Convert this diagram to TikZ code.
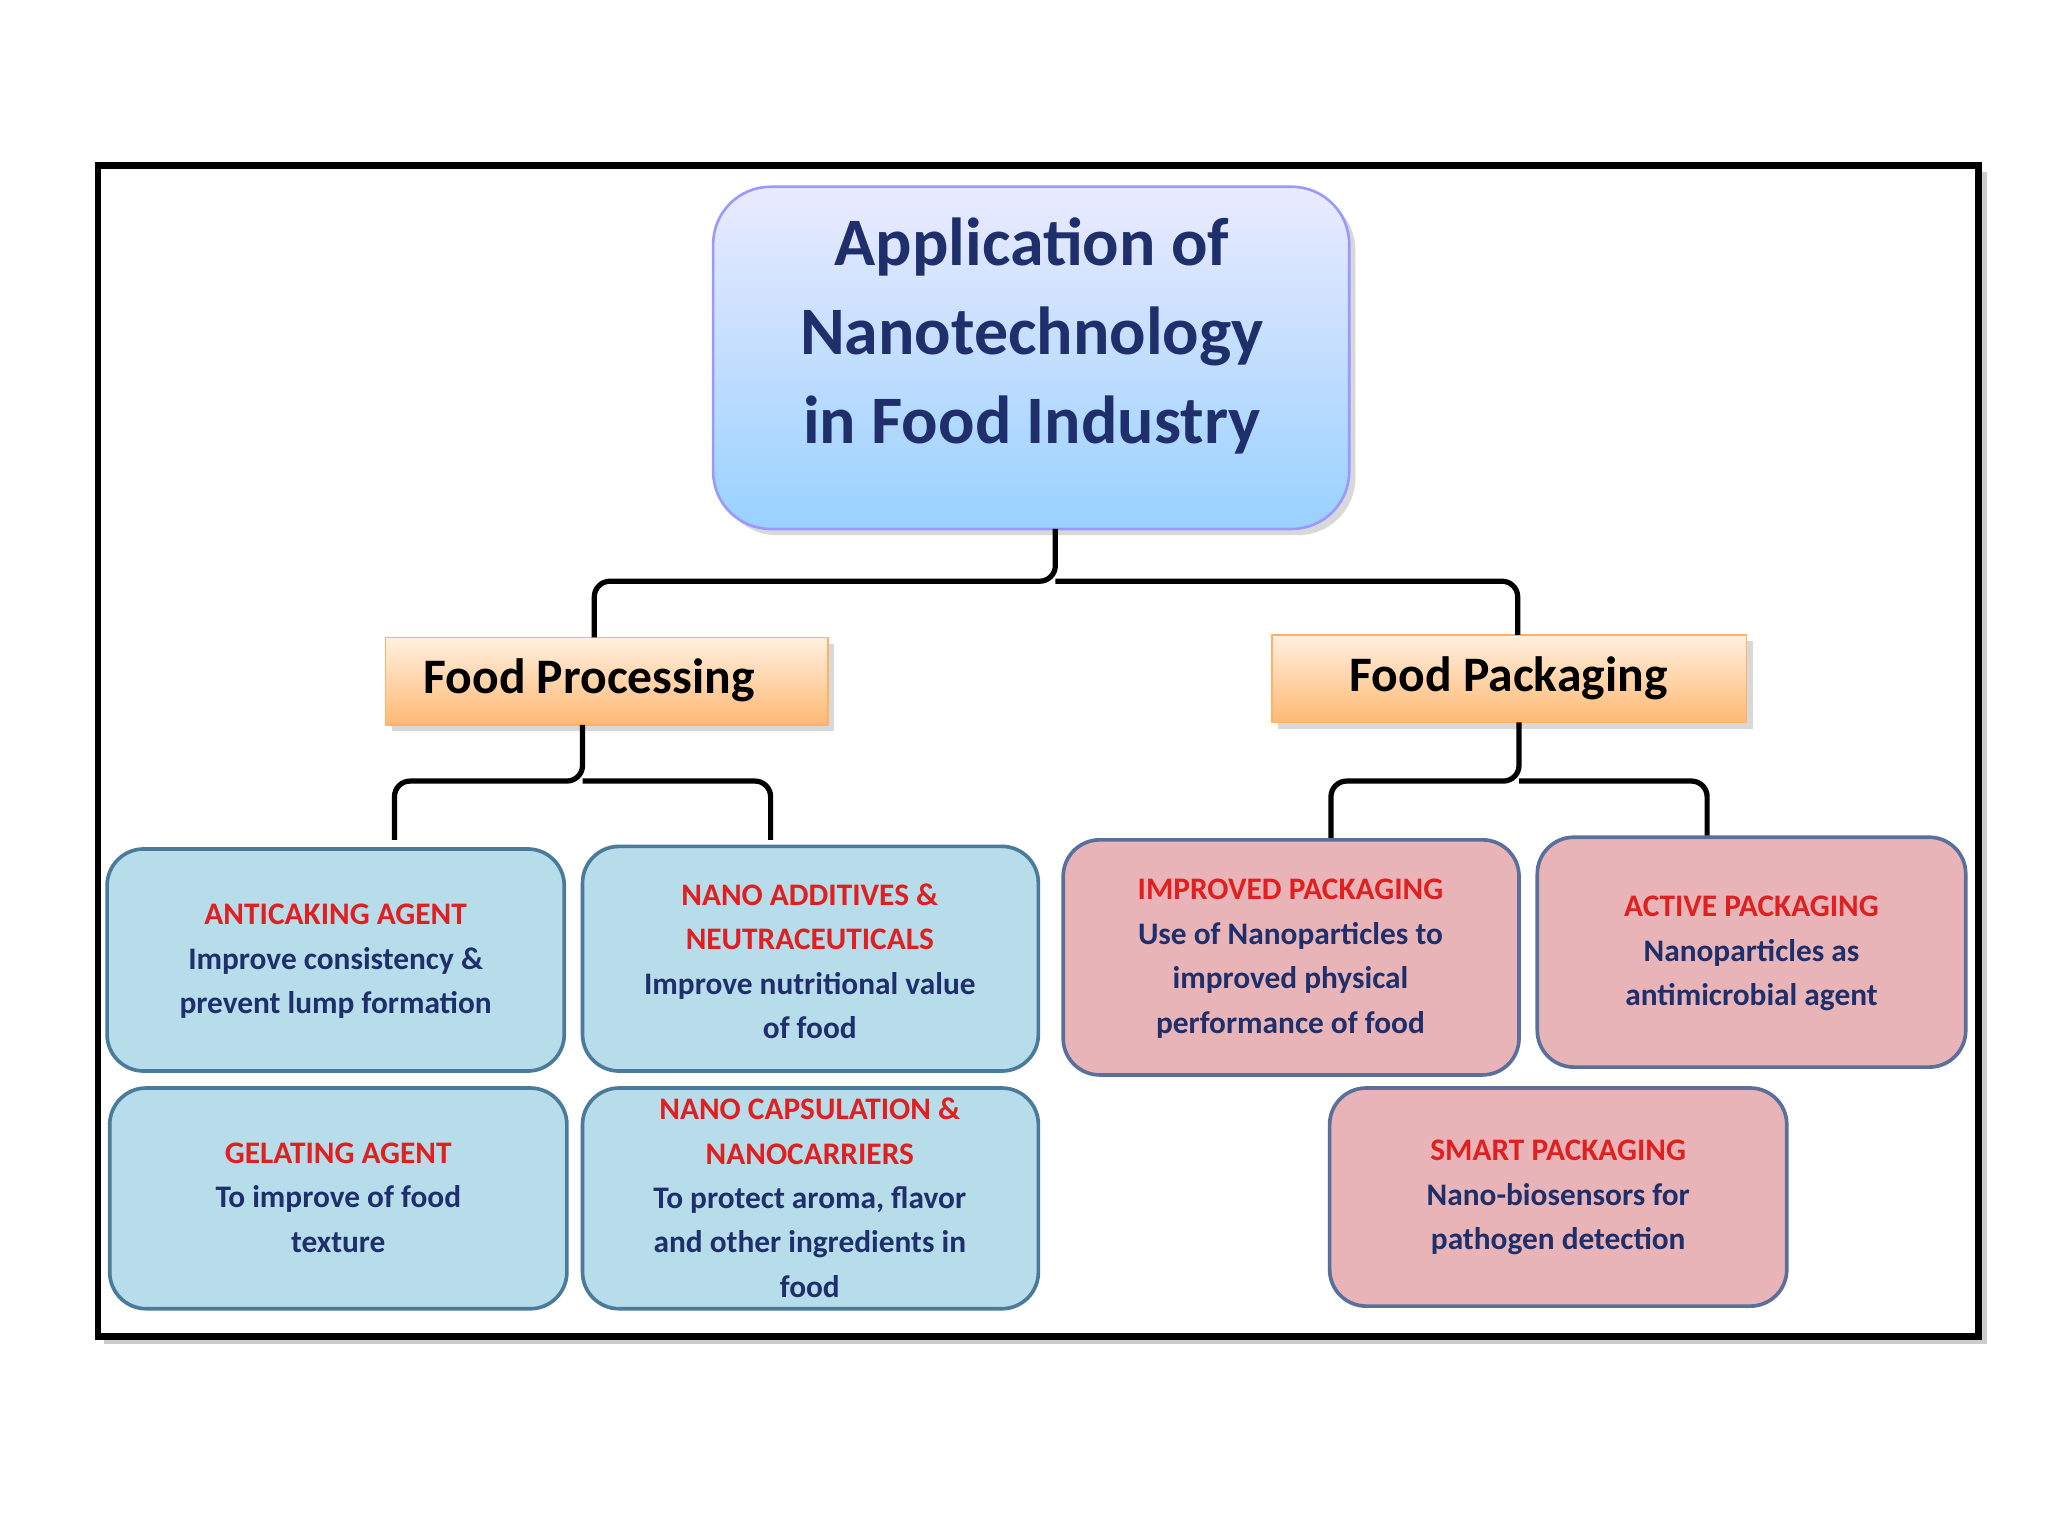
\documentclass[tikz,border=0pt]{standalone}
\usepackage{fontspec}
\setmainfont{Carlito}
\usetikzlibrary{shadows}
\definecolor{navy}{HTML}{1F2F6B}
\definecolor{hred}{HTML}{E02020}
\definecolor{bfill}{HTML}{B7DCEA}
\definecolor{bdraw}{HTML}{4A7B9B}
\definecolor{pfill}{HTML}{E8B4B8}
\definecolor{pdraw}{HTML}{5A6F9B}
\begin{document}
\begin{tikzpicture}[x=0.5pt,y=-0.5pt,
 conn/.style={line width=2pt,rounded corners=6pt},
 blue/.style={draw=bdraw,line width=1.4pt,fill=bfill,rounded corners=14pt},
 pink/.style={draw=pdraw,line width=1.4pt,fill=pfill,rounded corners=14pt},
 txt/.style={align=center,font=\bfseries\fontsize{12}{17}\selectfont,text=navy},
 cat/.style={draw=orange!60,line width=0.6pt,top color=orange!12,bottom color=orange!55,drop shadow={opacity=0.3}}]
\useasboundingbox (0,0) rectangle (1568,1176);
\fill[gray!40] (80,132) rectangle (1521,1029);
\draw[line width=2.6pt,fill=white] (75,127) rectangle (1515,1023);
% title
\path[draw=blue!40,line width=1pt,rounded corners=22pt,top color=blue!8,bottom color=blue!45!cyan!40!white,drop shadow={opacity=0.3}] (546,143) rectangle (1033,405);
\node[align=center,font=\bfseries\fontsize{26}{34}\selectfont,text=navy] (title) at (790,257) {Application of\\Nanotechnology\\in Food Industry};
\coordinate (tb) at (808,405);
% categories
\path[cat] (295,488) rectangle (634,555);
\node[font=\bfseries\fontsize{19}{22}\selectfont] (fp) at (451,521) {Food Processing};
\path[cat] (974,486) rectangle (1337,553);
\node[font=\bfseries\fontsize{19}{22}\selectfont] (fk) at (1155,519) {Food Packaging};
\draw[conn] (tb) -- (808,445) -| (455,488);
\draw[conn] (808,445) -| (1162,486);
\draw[conn] (446,555) -- (446,598) -| (302,643);
\draw[conn] (446,598) -| (590,643);
\draw[conn] (1163,553) -- (1163,598) -| (1019,643);
\draw[conn] (1163,598) -| (1307,641);
% blue boxes
\path[blue] (82,650) rectangle (432,820);
\node[txt] (a1) at (257,736) {\textcolor{hred}{ANTICAKING AGENT}\\Improve consistency \&\\prevent lump formation};
\path[blue] (446,648) rectangle (795,820);
\node[txt] (a2) at (620,736) {\textcolor{hred}{NANO ADDITIVES \&}\\\textcolor{hred}{NEUTRACEUTICALS}\\Improve nutritional value\\of food};
\path[blue] (84,833) rectangle (434,1002);
\node[txt] (a3) at (259,917) {\textcolor{hred}{GELATING AGENT}\\To improve of food\\texture};
\path[blue] (446,833) rectangle (795,1002);
\node[txt] (a4) at (620,917) {\textcolor{hred}{NANO CAPSULATION \&}\\\textcolor{hred}{NANOCARRIERS}\\To protect aroma, flavor\\and other ingredients in\\food};
% pink boxes
\path[pink] (814,643) rectangle (1163,823);
\node[txt] (b1) at (988,734) {\textcolor{hred}{IMPROVED PACKAGING}\\Use of Nanoparticles to\\improved physical\\performance of food};
\path[pink] (1177,641) rectangle (1505,817);
\node[txt] (b2) at (1341,730) {\textcolor{hred}{ACTIVE PACKAGING}\\Nanoparticles as\\antimicrobial agent};
\path[pink] (1018,833) rectangle (1368,1000);
\node[txt] (b3) at (1193,917) {\textcolor{hred}{SMART PACKAGING}\\Nano-biosensors for\\pathogen detection};
\end{tikzpicture}
\end{document}
